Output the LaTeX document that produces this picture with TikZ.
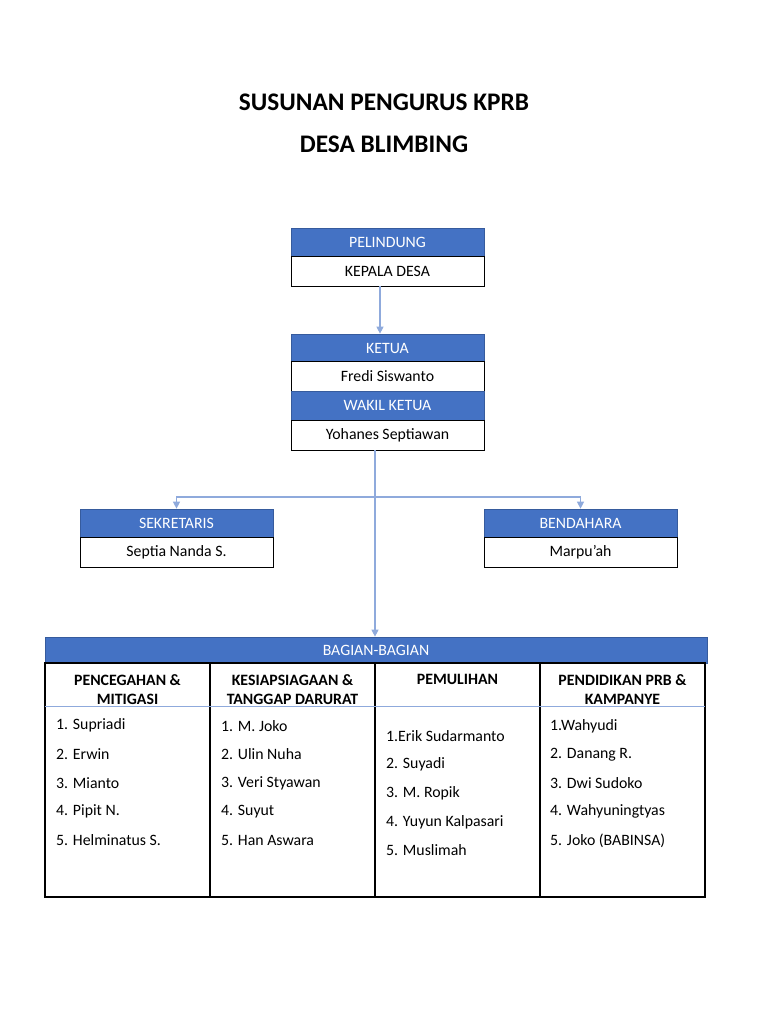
\documentclass[tikz,border=0pt]{standalone}
\usepackage{fontspec}
\setmainfont{Carlito}
\usetikzlibrary{positioning,calc,arrows.meta}
\definecolor{kblue}{HTML}{4472C4}
\definecolor{kline}{HTML}{8FAADC}

\begin{document}
\begin{tikzpicture}[x=0.02cm,y=-0.02cm,
    head/.style={draw=kblue!80!black,fill=kblue,text=white,minimum width=3.86cm,minimum height=0.56cm,inner sep=0pt,font=\small},
    person/.style={draw=black,fill=white,minimum width=3.86cm,minimum height=0.6cm,inner sep=0pt,font=\small},
    link/.style={draw=kline,line width=0.7pt,-{Triangle[length=4pt,width=4pt]}},
    col/.style={font=\small\bfseries,align=center,anchor=north},
    item/.style={font=\small,anchor=west}
    ]
\useasboundingbox (0,0) rectangle (768,1024);

% Title
\node[font=\Large\bfseries] (title1) at (384,102) {SUSUNAN PENGURUS KPRB};
\node[font=\Large\bfseries] (title2) at (384,144) {DESA BLIMBING};

% Pelindung
\node[head] (pel) at (387.5,242) {PELINDUNG};
\node[person] (kades) at (387.5,271) {KEPALA DESA};

% Ketua & wakil
\node[head] (ketua) at (387.5,348) {KETUA};
\node[person] (fredi) at (387.5,376.5) {Fredi Siswanto};
\node[head,minimum height=0.58cm] (wakil) at (387.5,405.5) {WAKIL KETUA};
\node[person] (yoh) at (387.5,435) {Yohanes Septiawan};

% Sekretaris & bendahara
\node[head] (sek) at (176.5,523) {SEKRETARIS};
\node[person] (septia) at (176.5,552) {Septia Nanda S.};
\node[head] (bend) at (580.5,523) {BENDAHARA};
\node[person] (marpu) at (580.5,552) {Marpu'ah};

% Bagian
\node[head,minimum width=13.24cm,minimum height=0.52cm] (bag) at (376,650) {BAGIAN-BAGIAN};

% Connectors
\coordinate (split) at (375,497);
\draw[link] (kades.south -| 380,0) -- (ketua.north -| 380,0);
\draw[link] (yoh.south -| split) -- (bag.north -| split);
\draw[link] (split) -| (sek.north);
\draw[link] (split) -| (bend.north);

% Table
\draw[line width=0.9pt] (45,663) rectangle (705,897);
\foreach \x in {210,375,540} \draw[line width=0.9pt] (\x,663) -- (\x,897);
\draw[kline] (45,706) -- (705,706);

\node[col] (c1) at (127.5,668) {PENCEGAHAN \&\\MITIGASI};
\node[col] (c2) at (292.5,668) {KESIAPSIAGAAN \&\\TANGGAP DARURAT};
\node[col] (c3) at (457.5,668) {PEMULIHAN};
\node[col] (c4) at (622.5,668) {PENDIDIKAN PRB \&\\KAMPANYE};

% Members
\foreach \t [count=\i] in {Supriadi,Erwin,Mianto,Pipit N.,Helminatus S.}
  \node[item] (a\i) at (50,697+28.7*\i) {\i. \t};
\foreach \t [count=\i] in {M. Joko,Ulin Nuha,Veri Styawan,Suyut,Han Aswara}
  \node[item] (b\i) at (215,697+28.7*\i) {\i. \t};
\node[item] (c1m) at (380,736) {1.Erik Sudarmanto};
\foreach \t [count=\i from 2] in {Suyadi,M. Ropik,Yuyun Kalpasari,Muslimah}
  \node[item] (c\i m) at (380,707+28.7*\i) {\i. \t};
\node[item] (d1) at (544,726) {1.Wahyudi};
\foreach \t [count=\i from 2] in {Danang R.,Dwi Sudoko,Wahyuningtyas,Joko (BABINSA)}
  \node[item] (d\i) at (544,697+28.7*\i) {\i. \t};

\end{tikzpicture}
\end{document}
